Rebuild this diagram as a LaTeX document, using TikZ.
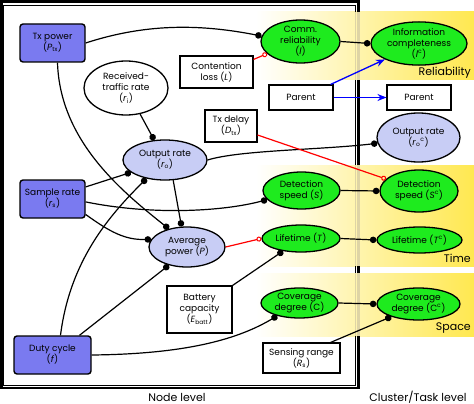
\documentclass[tikz,border=0pt]{standalone}
\usepackage{fontspec}
\setmainfont{Poppins}
\usetikzlibrary{shapes.geometric,arrows.meta}
\definecolor{boxblue}{RGB}{122,122,240}
\definecolor{lavfill}{RGB}{200,205,245}
\definecolor{grnfill}{RGB}{30,235,30}
\definecolor{bandmid}{RGB}{255,249,212}
\definecolor{bandyel}{RGB}{255,232,80}
\definecolor{tanline}{RGB}{222,212,165}
\newcommand{\vv}[1]{\textit{#1}}
\begin{document}
\begin{tikzpicture}[x=1pt,y=-1pt,
  txt/.style={font=\fontsize{9}{11}\selectfont, align=center, inner sep=0pt},
  bluebox/.style={txt, rectangle, rounded corners=3pt, draw, line width=1.4pt, fill=boxblue},
  whitebox/.style={txt, rectangle, draw, line width=1.1pt, fill=white},
  lav/.style={txt, ellipse, draw, line width=1.3pt, fill=lavfill},
  grn/.style={txt, ellipse, draw, line width=1.3pt, fill=grnfill},
  wel/.style={txt, ellipse, draw, line width=1.3pt, fill=white},
  conn/.style={line width=1.2pt, -{Circle[length=6.5pt]}},
  redconn/.style={red, line width=1.2pt, -{Circle[open, length=5pt, line width=1pt]}},
  blueconn/.style={blue, line width=1.3pt, -{Stealth[length=9pt, width=7pt]}},
  band/.style={left color=white, middle color=bandmid, right color=bandyel},
  fadedframe/.style={tanline},
  bandlabel/.style={font=\fontsize{11}{13}\selectfont, anchor=east, inner sep=0pt},
  levellabel/.style={font=\fontsize{11}{13}\selectfont, inner sep=0pt}
]
\useasboundingbox (0,0) rectangle (474,404);
\fill[white] (0,0) rectangle (474,404);
% bands
\fill[band] (256,12) rectangle (474,80);
\fill[band] (256,165) rectangle (474,266);
\fill[band] (256,273) rectangle (474,336);
% frame
\draw[line width=2.5pt] (1.3,1.5) rectangle (358.5,388);
\draw[line width=1pt] (3.5,5.5) rectangle (355.5,385.5);
% frame seen through the bands
\foreach \ya/\yb in {12/80, 165/266, 273/336} {
  \draw[fadedframe, line width=2.6pt] (358.5,\ya) -- (358.5,\yb);
  \draw[fadedframe, line width=1.1pt] (355.5,\ya) -- (355.5,\yb);
}
\node[bandlabel] (lrel) at (471,73) {Reliability};
\node[bandlabel] (ltime) at (471,258) {Time};
\node[bandlabel] (lspace) at (471,328) {Space};
\node[levellabel] (lnode) at (177,397) {Node level};
\node[levellabel] (lclus) at (418,397) {Cluster/Task level};
% left boxes
\node[bluebox, minimum width=65pt, minimum height=38pt] (tx) at (52.5,43) {Tx power\\(\vv{P}\textsubscript{tx})};
\node[bluebox, minimum width=65pt, minimum height=38pt] (sr) at (52.5,199) {Sample rate\\(\vv{r}\textsubscript{s})};
\node[bluebox, minimum width=77pt, minimum height=38pt] (duty) at (52.5,355) {Duty cycle\\(\vv{f})};
% white boxes
\node[whitebox, minimum width=73pt, minimum height=32pt] (cont) at (216.5,72) {Contention\\loss (\vv{L})};
\node[whitebox, minimum width=52pt, minimum height=32pt] (txd) at (231,126) {Tx delay\\(\vv{D}\textsubscript{tx})};
\node[whitebox, minimum width=64pt, minimum height=25pt] (par) at (301,97.5) {Parent};
\node[whitebox, minimum width=64pt, minimum height=25pt] (par2) at (419,97.5) {Parent};
\node[whitebox, minimum width=65pt, minimum height=47pt] (batt) at (199.5,309.5) {Battery\\capacity\\(\vv{E}\textsubscript{batt})};
\node[whitebox, minimum width=77pt, minimum height=30pt] (sens) at (301.5,358) {Sensing range\\(\vv{R}\textsubscript{s})};
% ellipses
\node[wel, minimum width=84pt, minimum height=54pt] (rtr) at (126,88) {Received-\\traffic rate\\(\vv{r}\textsubscript{i})};
\node[lav, minimum width=84pt, minimum height=40pt] (out) at (165,160) {Output rate\\(\vv{r}\textsubscript{o})};
\node[lav, minimum width=76pt, minimum height=40pt] (avg) at (187,247) {Average\\power (\vv{P})};
\node[grn, minimum width=79pt, minimum height=43pt] (comm) at (300.5,41.5) {Comm.\\reliability\\(\vv{l})};
\node[grn, minimum width=96pt, minimum height=43pt] (info) at (419,43.5) {Information\\completeness\\(\vv{l}\textsuperscript{c})};
\node[lav, minimum width=83pt, minimum height=49pt] (outc) at (418.5,137.5) {Output rate\\(\vv{r}\textsubscript{o}\textsuperscript{c})};
\node[grn, minimum width=77pt, minimum height=37pt] (dS) at (301.5,190.5) {Detection\\speed (\vv{S})};
\node[grn, minimum width=78pt, minimum height=42pt] (dSc) at (419,191) {Detection\\speed (\vv{S}\textsuperscript{c})};
\node[grn, minimum width=78pt, minimum height=27pt] (lifeT) at (301,238.5) {Lifetime (\vv{T})};
\node[grn, minimum width=85pt, minimum height=26pt] (lifeTc) at (419.5,240) {Lifetime (\vv{T}\textsuperscript{c})};
\node[grn, minimum width=77pt, minimum height=30pt] (covC) at (299.5,303) {Coverage\\degree (C)};
\node[grn, minimum width=83pt, minimum height=32pt] (covCc) at (418.5,304) {Coverage\\degree (C\textsuperscript{c})};
% black connectors
\draw[conn] (tx.east) .. controls (150,22) and (205,25) .. (comm.172);
\draw[conn] ([xshift=5pt]tx.south) .. controls (60,140) and (120,190) .. (avg.135);
\draw[conn] (rtr) -- (out);
\draw[conn] (sr.20) -- (out.200);
\draw[conn] ([xshift=8pt]duty.north) .. controls (70,260) and (110,215) .. (out.225);
\draw[conn] (out.-68) -- (avg.105);
\draw[conn] (sr.-25) .. controls (110,232) and (125,240) .. (avg.168);
\draw[conn] (sr.-5) .. controls (150,215) and (220,212) .. (dS.195);
\draw[conn] ([xshift=27pt]duty.north) -- (avg.225);
\draw[conn] (duty.east) .. controls (190,354) and (240,338) .. (covC.210);
\draw[conn] (batt.north east) -- (lifeT.215);
\draw[conn] (out.east) .. controls (240,150) and (320,150) .. (outc.188);
\draw[conn] (comm.east) -- (info.west);
\draw[conn] (dS.east) -- (dSc.west);
\draw[conn] (lifeT.east) -- (lifeTc.west);
\draw[conn] (covC.east) -- (covCc.west);
\draw[conn] ([xshift=-10pt]sens.north east) -- (covCc.205);
% red connectors
\draw[redconn] ([yshift=-4pt]cont.north east) -- (comm.200);
\draw[redconn] ([yshift=-9pt]txd.east) -- (dSc.160);
\draw[redconn] (avg.east) -- (lifeT.west);
% blue connectors
\draw[blueconn] ([xshift=-3pt]par.north east) -- (info.205);
\draw[blueconn] (par.east) -- (par2.west);
\end{tikzpicture}
\end{document}
